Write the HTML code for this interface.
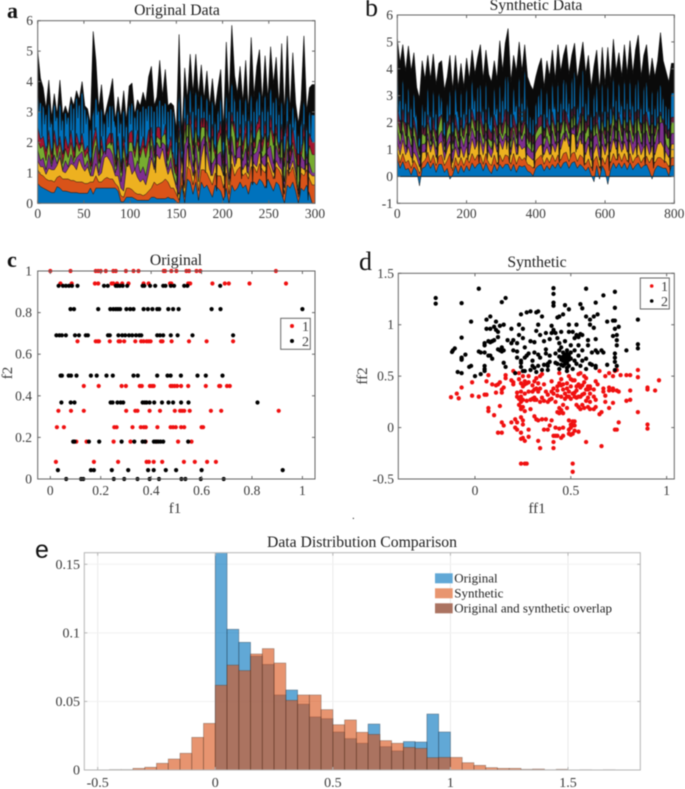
<!DOCTYPE html>
<html>
<head>
<meta charset="utf-8">
<title>Original and synthetic data comparison</title>
<style>
html,body{margin:0;padding:0;background:#fff;width:685px;height:789px;overflow:hidden}
svg{display:block;filter:blur(.4px)}
text{font-family:"Liberation Serif",serif;fill:#3a3a3a}
</style>
</head>
<body>
<svg id="fig" xmlns="http://www.w3.org/2000/svg" width="685" height="789" viewBox="0 0 685 789">
<defs>
<clipPath id="clipA"><rect x="37.7" y="20.7" width="277.3" height="182.6"/></clipPath>
<clipPath id="clipB"><rect x="397.3" y="15" width="277" height="188.3"/></clipPath>
<clipPath id="clipE"><rect x="84.3" y="552.7" width="556" height="217.3"/></clipPath>
</defs>
<text x="7" y="18" style="font-size:22px;font-weight:bold;fill:#111">a</text>
<text x="365" y="16" style="font-size:26px;fill:#111">b</text>
<text x="7" y="267" style="font-size:22px;font-weight:bold;fill:#111">c</text>
<text x="359" y="270" style="font-size:26px;fill:#111">d</text>
<text x="35" y="558" style="font-size:25px;font-family:'Liberation Sans',sans-serif;fill:#111">e</text>
<text x="177" y="15" text-anchor="middle" style="font-size:15.7px;fill:#222">Original Data</text>
<text x="536" y="10" text-anchor="middle" style="font-size:15.7px;fill:#222">Synthetic Data</text>
<text x="176" y="265" text-anchor="middle" style="font-size:15.7px;fill:#222">Original</text>
<text x="537" y="267" text-anchor="middle" style="font-size:15.7px;fill:#222">Synthetic</text>
<text x="362" y="547" text-anchor="middle" style="font-size:15.7px;fill:#222">Data Distribution Comparison</text>
<text x="175" y="513" text-anchor="middle" style="font-size:15px">f1</text>
<text transform="translate(12,373) rotate(-90)" text-anchor="middle" style="font-size:15px">f2</text>
<text x="537" y="513" text-anchor="middle" style="font-size:15px">ff1</text>
<text transform="translate(367,376) rotate(-90)" text-anchor="middle" style="font-size:15px">ff2</text>
<g id="layerA" clip-path="url(#clipA)"></g>
<g id="layerB" clip-path="url(#clipB)"></g>
<g id="layerC"></g>
<g id="layerD"></g>
<g id="layerE" clip-path="url(#clipE)"></g>
<g id="axes"></g>
<text x="517" y="122" style="font-size:22px;fill:#222">a</text>
<text x="352" y="519" style="font-size:11px;fill:#333">.</text>
<g>
<rect x="280.7" y="318.3" width="29.6" height="31" fill="#fff" stroke="#666" stroke-width="1"/>
<circle cx="292" cy="326" r="2" fill="#f01010"/>
<circle cx="292" cy="341" r="2" fill="#000"/>
<text x="302" y="331" style="font-size:14px">1</text>
<text x="302" y="346" style="font-size:14px">2</text>
</g>
<g>
<rect x="640.3" y="278" width="29" height="31" fill="#fff" stroke="#666" stroke-width="1"/>
<circle cx="651.7" cy="286" r="1.8" fill="#f01010"/>
<circle cx="651.7" cy="301" r="1.8" fill="#000"/>
<text x="661" y="291" style="font-size:14px">1</text>
<text x="661" y="306" style="font-size:14px">2</text>
</g>
<g>
<rect x="435" y="573.3" width="17.7" height="10" fill="#61a8d6"/>
<rect x="435" y="588.3" width="17.7" height="10" fill="#e8956f"/>
<rect x="435" y="603.3" width="17.7" height="10" fill="#ab7361"/>
<text x="454.3" y="582.7" style="font-size:13px;fill:#222">Original</text>
<text x="454.3" y="597.7" style="font-size:13px;fill:#222">Synthetic</text>
<text x="454.3" y="612.7" style="font-size:13px;fill:#222">Original and synthetic overlap</text>
</g>
</svg>
<script>
/* Panel a: boundaries of the stacked bands, one value per 3 x units */
const aBlackTop=[5.0,4.1,3.8,3.1,4.05,2.8,3.6,2.9,4.05,2.9,3.2,2.9,3.5,3.2,3.7,3.4,4.0,3.2,3.1,2.6,5.65,4.7,3.1,3.9,2.8,3.2,3.6,4.1,2.7,3.5,2.8,3.7,2.7,3.85,3.95,2.9,3.4,3.2,3.65,3.3,4.15,4.5,3.2,3.5,4.7,3.5,4.4,3.2,3.3,3.2,2.4,5.55,2.2,4.45,3.4,4.9,3.6,4.9,3.5,4.55,3.4,4.35,3.2,4.1,3.1,3.8,4.4,2.4,5.3,3.3,5.85,4.2,3.6,4.5,3.3,4.7,3.0,5.45,3.5,4.5,5.05,3.3,4.85,3.4,5.15,3.9,4.8,3.2,5.25,2.9,5.5,3.0,4.95,3.3,2.6,3.4,5.5,3.0,3.8,3.9];
const aBlue2Top=[3.5,3.3,3.2,2.9,3.3,2.6,3.3,2.8,3.3,2.7,3.0,2.8,3.3,3.1,3.5,3.2,3.7,3.1,2.9,2.4,3.0,3.5,3.0,3.1,2.6,3.0,3.2,3.2,2.5,3.1,2.6,3.1,2.5,3.2,3.3,2.8,3.1,3.0,3.2,3.1,3.2,3.2,3.0,3.2,3.4,3.2,3.3,3.0,3.1,3.0,2.0,3.7,1.7,3.6,2.9,3.8,3.0,3.7,3.1,3.6,3.0,3.5,2.9,3.4,2.6,3.0,3.5,2.0,3.6,3.0,4.0,3.4,3.0,3.5,2.9,3.5,2.7,3.6,3.0,3.4,3.7,3.0,3.6,3.0,3.8,3.3,3.5,2.9,3.4,2.2,3.6,2.6,3.2,2.8,2.2,2.6,3.4,2.4,3.0,2.9];
const aRedTop=[2.5,2.1,2.2,1.7,2.4,1.6,2.4,1.8,2.2,1.6,2.2,1.8,2.4,1.7,2.3,1.9,2.3,1.7,1.9,1.3,2.1,2.5,1.6,2.2,1.5,2.1,2.3,2.3,1.4,2.2,1.2,2.2,1.4,2.3,2.4,1.7,2.4,1.7,2.2,1.8,2.4,2.5,1.7,2.5,2.5,2.0,2.6,1.7,2.2,1.5,1.2,2.7,1.2,2.8,1.9,3.0,1.9,2.9,2.0,2.8,2.8,2.7,2.0,2.6,1.7,2.3,2.7,1.4,2.8,1.9,3.0,2.6,2.0,2.6,1.9,2.7,1.7,2.7,2.0,2.6,2.9,2.0,2.7,2.0,2.9,2.2,2.6,1.8,2.6,1.5,2.7,1.7,2.5,1.8,1.6,1.7,2.6,1.4,2.3,2.0];
const aGreenTop=[2.1,1.8,1.9,1.4,2.1,1.3,2.1,1.5,2.0,1.3,1.8,1.5,2.0,1.4,2.0,1.7,2.0,1.5,1.7,1.1,1.8,2.2,1.3,1.9,1.3,1.9,2.0,2.0,1.2,1.9,1.0,1.9,1.1,2.0,2.0,1.5,2.1,1.5,1.9,1.5,2.0,2.2,1.5,2.2,2.1,2.2,2.3,1.4,1.9,1.2,.9,2.4,.9,2.4,2.6,2.6,1.6,2.5,1.7,2.5,2.5,2.4,1.7,2.2,1.5,2.0,2.3,1.1,2.4,1.6,2.7,2.3,1.7,2.3,1.6,2.3,1.4,2.4,1.7,2.3,2.5,1.7,2.3,1.7,2.5,1.9,2.3,1.6,2.1,1.2,2.2,1.4,2.0,1.5,1.2,1.4,2.2,1.1,1.9,1.6];
const aPurpleTop=[1.75,1.4,1.5,1.1,1.6,1.2,1.6,1.3,1.7,1.1,1.4,1.2,1.6,1.3,1.5,1.6,1.7,1.2,1.4,.9,1.4,1.9,1.0,1.5,1.7,1.8,1.8,1.6,1.0,1.5,.7,1.5,.8,1.7,1.7,1.1,1.4,1.0,1.2,.9,1.4,1.9,1.2,2.0,1.8,2.0,1.9,1.1,1.5,.9,.6,2.0,.6,1.9,2.2,1.9,1.2,2.0,1.1,2.0,2.2,2.0,1.4,1.3,1.5,1.6,1.7,.9,1.9,.8,2.2,1.5,1.8,1.9,1.4,1.8,1.2,2.0,1.6,1.7,2.1,1.5,1.6,1.8,1.9,1.3,1.9,1.5,1.5,.7,1.8,1.3,1.8,1.2,.4,1.6,1.4,1.5,1.3,1.0];
const aYellowTop=[1.4,1.2,1.2,.95,1.15,1.1,1.1,1.25,1.5,1.05,1.0,1.15,1.3,1.25,1.1,1.45,1.2,1.05,1.2,.9,.9,1.3,.9,1.0,1.5,1.55,1.4,1.2,.9,.9,.5,.4,1.2,1.3,.95,1.1,.85,.7,.8,.6,1.0,1.5,1.1,1.6,1.45,1.8,1.3,.95,1.2,.85,.5,.3,1.5,.5,1.9,1.4,.9,1.5,.7,1.5,1.95,1.6,1.1,.9,1.3,1.3,1.2,.9,1.3,.6,1.7,1.2,1.5,1.5,1.1,1.3,.95,1.6,1.3,1.2,1.7,1.3,1.2,1.6,1.3,1.0,1.4,1.2,1.1,.5,1.4,1.1,1.4,1.0,.3,1.2,1.1,1.3,1.0,.9];
const aOrangeTop=[1.1,.95,.9,.8,.75,.75,.7,.85,.9,.8,.8,.8,.75,.75,.7,.7,.7,.65,.65,.7,.7,.9,.7,.7,.8,.85,.8,.8,.65,.55,.25,.2,.5,.5,.45,.35,.3,.3,.25,.3,.4,.5,.7,.6,.65,.7,.8,.7,.5,.5,.3,.1,1.0,.2,1.2,1.1,.6,1.1,.4,1.1,1.1,1.0,.8,.6,1.0,.9,.9,.5,1.0,.3,1.3,.9,1.1,1.2,.9,1.0,.8,1.2,1.2,1.0,1.3,1.1,1.0,1.35,1.1,.8,1.2,1.1,.9,.3,1.1,1.0,1.2,.8,.2,1.0,.9,1.1,.8,.6];
const aBlueTop=[.65,.55,.5,.45,.4,.35,.35,.55,.5,.4,.4,.38,.35,.35,.35,.33,.33,.33,.33,.5,.3,.5,.5,.5,.5,.5,.5,.5,.5,.4,.05,.05,.2,.2,.2,.15,.1,.1,.1,.1,.1,.2,.2,.15,.15,.15,.15,.2,.15,.15,.05,0,.6,0,.8,.7,.3,.7,.1,.7,.5,.6,.4,.2,.6,.5,.4,.1,.5,0,.6,.4,.5,.7,.5,.6,.3,.7,.7,.6,.8,.7,.5,.8,.6,.4,.7,.6,.3,0,.6,.5,.7,.4,0,.5,.4,.6,.3,0];
/* Depth reached by the dark streak between consecutive samples in panel a */
const aDipLevel=[3,2.2,2.6,1.8,2.5,1.4,2.7,1.9,2.4,1.6,2.6,2.0,2.4,1.5,2.8,1.9,2.3,2.6,1.7,1.2,2.4,2.9,1.3,2.2,1.6,2.5,1.9,2.7,1.1,2.3,.9,2.0,1.2,2.6,1.7,2.4,1.3,2.2,1.8,2.7,1.5,2.3,1.0,2.5,1.8,2.6,1.2,2.1,1.6,1.0,.2,2.4,.3,2.0,1.2,2.6,.8,1.9,1.4,2.5,1.0,2.2,.9,1.7,.4,2.3,1.1,.2,2.1,.7,2.5,1.3,2.0,.8,2.4,1.0,2.2,.6,1.8,2.6,.9,2.1,.5,1.9,2.4,.8,2.0,1.3,.2,2.3,.9,1.6,2.4,.7,.2,1.9,1.0,.1,2.2,.4];

/* Panel b: boundaries of the stacked bands, one value per 8 x units */
const bBlackTop=[5.1,4.2,4.9,3.9,4.85,3.9,4.6,3.3,2.9,4.3,3.6,4.5,3.6,4.55,3.4,4.2,4.3,3.2,3.7,4.5,3.2,4.5,3.3,4.2,3.3,4.4,3.6,4.7,3.8,4.4,4.9,3.6,4.7,3.8,3.5,4.3,3.6,5.05,3.9,4.95,5.5,3.5,4.5,3.9,5.0,3.9,4.9,3.7,3.4,3.2,3.7,4.1,4.4,3.3,4.3,3.7,4.7,3.6,4.9,3.9,4.5,4.9,3.8,4.5,4.95,3.6,4.3,5.0,3.8,4.5,3.3,4.1,4.7,3.2,4.8,3.4,4.8,3.5,5.1,3.9,4.6,3.7,4.9,3.8,5.05,3.8,4.7,5.25,3.7,4.5,4.9,3.6,4.4,3.7,4.3,5.35,4.3,3.9,3.5,4.2];
const bBlue2Top=[3.7,2.8,3.6,2.7,3.3,2.5,3.1,2.2,1.4,2.7,2.4,3.3,2.2,3.2,2.3,3.1,2.9,2.0,2.7,3.2,2.0,3.4,2.2,3.2,2.3,3.3,2.5,3.6,2.8,3.3,3.4,2.4,3.5,2.6,2.2,3.3,2.5,3.4,2.8,3.7,3.7,2.3,3.3,2.6,3.7,2.7,4.0,2.6,2.2,2.1,2.7,3.0,3.3,2.3,3.2,2.5,3.5,2.5,3.5,2.7,3.6,3.5,2.7,3.6,3.9,2.5,3.4,4.0,2.7,3.4,2.2,3.0,3.4,2.2,3.5,2.4,3.4,2.5,3.7,2.8,3.5,2.6,3.6,2.7,3.6,2.6,3.4,3.6,2.5,3.3,3.5,2.4,3.2,2.5,3.2,3.4,2.9,2.6,2.5,3.1];
const bRedTop=[2.6,2.0,2.5,1.9,2.4,1.7,2.2,1.6,1.0,1.9,1.8,2.3,1.6,2.2,1.6,2.2,2.3,1.4,2.0,2.3,1.5,2.3,1.6,2.2,1.7,2.3,1.9,2.5,2.0,2.4,2.4,1.8,2.5,1.8,1.6,2.3,1.8,2.4,1.9,2.5,2.4,1.7,2.3,1.8,2.6,1.9,2.5,1.8,1.6,1.5,1.9,2.2,2.3,1.7,2.2,1.8,2.4,1.8,2.4,1.9,2.5,2.4,1.9,2.5,2.6,1.8,2.3,2.6,2.0,2.3,1.6,2.2,2.4,1.6,2.4,1.7,2.4,1.8,2.6,2.0,2.4,1.8,2.5,1.9,2.5,1.8,2.4,2.5,1.9,2.3,2.4,1.8,2.3,1.8,2.2,2.4,2.1,1.9,1.7,2.2];
const bGreenTop=[2.2,1.6,2.1,1.5,2.0,1.4,1.9,1.3,.8,1.6,1.5,2.0,1.3,1.8,1.3,1.9,2.3,1.1,1.7,2.0,1.2,1.9,1.3,1.9,1.4,2.0,1.5,2.2,1.7,2.1,2.0,1.4,2.1,1.4,1.3,1.9,1.4,2.0,1.5,2.1,1.9,1.3,1.9,1.4,2.1,1.5,2.0,1.4,1.3,1.2,1.6,1.8,1.9,1.4,1.9,1.5,2.1,1.5,2.1,1.6,2.1,2.0,1.6,2.2,2.3,1.5,2.0,2.3,1.6,1.9,1.3,1.9,2.0,1.3,2.1,1.4,2.2,1.5,2.4,1.7,2.2,1.5,2.2,1.6,2.2,1.5,2.1,2.2,1.6,2.0,2.1,1.5,2.0,1.5,2.0,2.3,2.0,1.6,1.4,2.0];
const bPurpleTop=[1.75,1.2,1.7,1.1,1.5,1.1,1.5,1.0,.6,1.2,1.2,1.6,1.1,1.5,1.0,1.5,1.7,.9,1.3,1.6,.9,1.5,1.0,1.5,1.1,1.6,1.2,1.8,1.4,1.7,1.6,1.1,1.7,1.2,1.0,1.7,1.1,1.6,1.3,1.6,1.5,1.0,1.7,1.1,1.7,1.3,1.6,1.1,1.0,.9,1.3,1.5,1.6,1.1,1.5,1.1,1.7,1.2,1.7,1.3,1.6,1.7,1.3,1.8,1.9,1.2,1.6,1.7,1.2,1.5,1.0,1.5,1.6,1.0,1.7,1.1,1.7,1.2,1.9,1.3,1.7,1.2,1.8,1.3,1.7,1.2,1.6,1.7,1.2,1.6,1.7,1.2,1.6,1.2,1.7,2.0,2.0,1.2,1.0,1.6];
const bYellowTop=[1.3,.8,1.35,.8,1.1,.7,.9,.7,.35,.9,.9,1.4,.9,1.3,.7,1.2,1.3,.6,1.0,1.3,.5,1.1,.7,1.1,.7,1.1,.8,1.4,1.0,1.35,1.3,.8,1.4,.9,.7,1.35,.9,1.3,1.0,1.4,1.3,.8,1.45,.8,1.2,1.0,1.1,.8,.7,.6,.9,1.1,1.2,.8,1.1,.8,1.2,.9,1.3,1.0,1.4,1.5,1.1,1.6,1.55,1.0,1.4,1.2,.8,1.2,.6,.9,1.2,.6,1.2,.8,1.3,.9,1.4,1.0,1.35,.9,1.3,.9,1.35,.8,1.1,1.25,.8,1.1,1.2,.8,1.15,.8,1.2,1.3,1.1,.9,.7,1.2];
const bOrangeTop=[.9,.5,.85,.5,.6,.3,.6,.4,.1,.5,.6,.9,.5,.8,.4,.75,.8,.4,.6,.85,.2,.7,.4,.7,.4,.7,.5,.85,.6,.8,.8,.45,.85,.5,.4,.8,.45,.8,.55,.8,.75,.45,.85,.45,.75,.6,.7,.45,.4,.3,.6,.7,.8,.45,.7,.5,.8,.55,.8,.6,.85,.9,.55,.85,.9,.55,.8,.7,.45,.65,.3,.6,.75,.3,.7,.45,.8,.5,.85,.6,.85,.55,.85,.55,.85,.5,.7,.8,.5,.7,.75,.5,.7,.5,.7,.7,.6,.55,.35,.7];
const bBlueTop=[.65,.3,.55,.25,.3,.05,.35,.2,-.35,.3,.35,.55,.3,.5,.15,.45,.45,.15,.3,-.1,.05,.4,.1,.4,.15,.4,.2,.5,.3,.45,.5,.2,.5,.25,.1,.45,.2,.45,.3,.45,.45,.2,.45,.15,.4,.35,.4,.2,.15,.02,.3,.4,.45,.2,.4,.25,.45,.3,.5,.3,.5,.55,.3,.5,.55,.3,.45,.35,.2,.35,.05,-.2,.4,-.1,.4,.2,-.3,.25,.5,.3,.5,.3,.5,.25,.5,.25,.4,.5,.3,.4,.45,.2,-.1,.25,.4,.35,.3,.3,.02,.4];
/* Depth reached by the dark streak between consecutive samples in panel b */
const bDipLevel=[2.4,1.4,2.0,.9,1.7,.5,2.2,1.0,.2,1.6,.7,2.1,1.1,1.8,.5,2.3,1.3,.8,1.9,.3,1.0,2.4,.7,1.5,2.0,.6,1.7,2.5,1.1,.5,2.1,1.3,.6,1.9,.9,2.3,.4,1.6,2.2,1.0,.5,1.8,2.4,.8,1.4,2.0,.6,1.2,.9,.3,1.7,2.2,.7,1.4,2.0,.8,2.5,1.1,.5,1.9,1.3,2.3,.7,1.7,.9,2.2,1.2,.4,1.8,.8,.2,1.5,2.1,.2,1.6,1.0,.2,2.0,1.2,.6,2.3,1.0,1.6,.5,2.1,1.3,.7,1.9,1.1,.4,2.4,.9,.3,1.7,1.2,2.0,.5,1.4,.2,1.8];

/* Panel c: rows of points (f2 level followed by f1 values) */
const cRedRows=[
[1,[0,.08,.18,.19,.2,.22,.25,.26,.3,.33,.35,.45,.455,.48,.5,.54,.55,.58,.595,.895]],
[.94,[.04,.085,.177,.19,.243,.25,.265,.285,.31,.37,.39,.475,.48,.547,.555,.643,.692,.708,.79,.935]],
[.662,[.108,.18,.188,.193,.236,.271,.277,.293,.337,.36,.37,.382,.39,.398,.439,.445,.481,.55,.62,.725]],
[.447,[.133,.192,.283,.3,.355,.363,.395,.404,.41,.477,.484,.493,.503,.519,.547,.617,.67,.674,.701,.712]],
[.328,[.032,.082,.133,.301,.337,.346,.394,.435,.494,.515,.523,.531,.553,.637,.678,.906]],
[.249,[.026,.054,.254,.263,.326,.359,.371,.379,.425,.477,.487,.498,.519,.531,.6,.606]],
[.18,[.103,.144,.251,.318,.378,.421,.507,.56]],
[.082,[.022,.173,.269,.382,.391,.41,.444,.53,.573,.622,.657]]];
const cBlackRows=[
[.929,[.033,.05,.062,.074,.086,.108,.213,.228,.26,.267,.276,.287,.305,.366,.373,.396,.416,.448,.457,.478,.491,.531,.544,.674]],
[.817,[.08,.094,.19,.238,.25,.26,.268,.277,.302,.317,.33,.37,.387,.405,.424,.432,.468,.487,.509,.64,.675,1]],
[.691,[.024,.036,.046,.062,.098,.114,.141,.149,.229,.236,.27,.285,.297,.312,.325,.34,.353,.361,.424,.435,.448,.478,.505,.564,.725]],
[.497,[.041,.046,.073,.082,.104,.161,.184,.223,.248,.33,.347,.424,.465,.477,.518,.584,.617,.683]],
[.368,[.044,.081,.096,.239,.247,.266,.279,.289,.366,.375,.382,.394,.412,.443,.469,.487,.519,.548,.822]],
[.18,[.091,.096,.153,.194,.283,.333,.366,.376,.411,.419,.428,.437,.448,.547]],
[.043,[.03,.161,.173,.244,.309,.388,.41,.458,.499,.6,.922]],
[0,[.063,.122,.131,.252,.293,.346,.394,.431,.52,.536,.597,.688]]];

/* Panel d: columns of points (ff1 value followed by ff2 values) */
const dBlackCols=[[-.205,[1.26,1.205]],[-.12,[.735]],[-.115,[.75]],[-.105,[.77]],[-.07,[.66,.67,.68,1.21,.875,.53]],[-.05,[.71]],[-.09,[.54]],[-.03,[.59]],[-.02,[.6,1.03]],[.02,[1.35,.74]],[0,[.5]],[.03,[.73,.52]],[.05,[.82,.8,.73,.6,.57,.55]],[.06,[1.05,.96]],[.07,[.7,.84]],[.08,[1.08,.96,.7,.83]],[.09,[.84,.67]],[.1,[.85,.98]],[.11,[1.03,.95]],[.12,[.93,.88,.76]],[.13,[.99,.75]],[.14,[1.22,.78,.74]],[.15,[1,.75,.63]],[.16,[1.26,.59]],[.17,[.85]],[.19,[.82,.96]],[.2,[.75,.85]],[.21,[.53]],[.22,[.68,.82,.74]],[.23,[1,.9]],[.24,[1.1,.63,.59,.65]],[.25,[.96,.87,.55]],[.26,[.78,.68,.55]],[.27,[1.12,.7]],[.28,[.72]],[.29,[1.13,.84,.56]],[.3,[.65,.6]],[.31,[.83,.73,.58]],[.32,[1.12,.94,.54]],[.33,[1.13,1,.71,.6]],[.34,[.9,.68]],[.35,[1.08,.56]],[.36,[.84,.61]],[.37,[.92,.72,.76]],[.38,[.6,.62,.56]],[.39,[.86,.7,.64]],[.4,[.99,.92]],[.41,[1.355,1.3,1.215,1.185,.95]],[.42,[.72,.63,.92]],[.43,[.87,.62,1.07]],[.44,[1.08,.82,.75,.69,.57]],[.45,[.93,.78,.66,.61]],[.46,[.73,.69,.65,1.1,.6]],[.47,[1.19,.84,.7,.66,.62]],[.48,[.75,.72,.68,.63,.58,.55]],[.49,[1.15,1,.93,.66,.6,.7]],[.5,[.8,.73,.67]],[.51,[.93,.57]],[.52,[.87,.75,.65]],[.53,[.9,.62,1]],[.54,[.88,.8,.7]],[.55,[1.2,.91,.6]],[.56,[1.16,.9,.75,.65]],[.58,[1.35,1.08,.67,.57]],[.59,[.85,.8]],[.6,[1.05,1,.62]],[.61,[.73,.61]],[.62,[1.08,.97]],[.63,[1.215,.75,.86,.6,.58]],[.64,[1.1,.73]],[.66,[.75]],[.67,[1.285,.73]],[.69,[1.03,.61]],[.72,[1.04,.89]],[.73,[1.04,.96,.68,.64,.72,.56,1.32,1.165]],[.74,[.9,.8,.85,.6]],[.75,[.98]],[.79,[.75]],[.85,[1.05,.81,.77]]];
const dRedCols=[[-.125,[.295]],[-.095,[.33]],[-.085,[.285]],[-.07,[.39]],[-.015,[.44,.31]],[.02,[.3]],[.05,[.32]],[.06,[.45,.32]],[.07,[.51,.19,.16]],[.09,[.42]],[.1,[.12]],[.11,[.41,.34]],[.12,[-.05,.42]],[.13,[.21,.44]],[.14,[-.05,.37,.05,.34]],[.15,[.02,.39]],[.16,[.48,.51]],[.19,[.05,.46]],[.2,[.44,.42,.55]],[.21,[0,.08]],[.22,[-.02,.34,.3,.05]],[.23,[.53,.47,.28,.22]],[.24,[.43,.35,.3,.25,.2,.18,.1,-.11,-.05,-.35]],[.25,[.5,.4,.27,.2,.07,.03,-.1]],[.26,[.45,.42,.33,.16,-.13,-.35]],[.27,[.43,.26,-.35]],[.28,[.5,.44,.35,-.09,-.02]],[.29,[.27,.18]],[.3,[.41,.35,.28]],[.31,[.11,.29,.27,.37,.45]],[.32,[.48,.38,.27,.08]],[.33,[.43,.35,-.13,.07]],[.34,[.5,.38,-.2,.25]],[.35,[.52,.29,.08]],[.36,[.42,.26,-.02]],[.37,[.35,.08]],[.38,[.32,.25,-.02]],[.39,[.02,.27]],[.4,[.45,.35,.28,.07]],[.41,[.38,.33,-.08,-.2,-.14]],[.42,[.25,0,-.08]],[.43,[.4,.36,.31,.15,-.08]],[.44,[.53,.43,.19,.14,-.01]],[.45,[.47,.41,.3,.17,-.1]],[.46,[.42,.37,.22,.14,-.08,0]],[.47,[.33,.28]],[.48,[.55,.43,.38,.3,.19]],[.49,[.5,.35,.3,.07,-.06,-.02]],[.5,[.47,.4,.28,.03,0,-.07]],[.51,[.46,.33,-.35,-.43,.06,.02,-.06]],[.52,[.46,.34,.3,-.03,.02,.06]],[.53,[.22,.29,.4,.36]],[.54,[.52,.42,.3,.2,-.04]],[.55,[.53,.39,.3,.18]],[.56,[.41,.32,.22]],[.57,[.5,.44,.33,.19]],[.58,[.48,.37,.26,-.14]],[.59,[.4,.37,.29,.2]],[.6,[.4,.38,.33,.25,.18]],[.62,[.37,.3,.18]],[.63,[.45,.27,.2]],[.64,[.42]],[.65,[.55,.13]],[.66,[-.18,.15]],[.67,[.38,.35]],[.68,[.31,.5,.25]],[.7,[.53,.39,.36,.19]],[.72,[.5,.38,.36,.24]],[.73,[-.02,.55]],[.74,[-.02,.36,.56]],[.75,[.35,.05]],[.76,[.51]],[.79,[.26,.51]],[.81,[.36,.27,.51]],[.85,[.56,.49,.15]],[.9,[.37,.39,.03,-.01]],[.94,[.36]],[.96,[.46]]];

/* Panel e: histogram densities per 0.05-wide bin starting at -0.45 */
const eBinStart=-.45;
const eBinWidth=.05;
const eSynthetic=[.0003,.0003,.0012,.002,.0049,.008,.0122,.0238,.034,.0618,.0765,.0725,.0846,.0885,.078,.0508,.0547,.0547,.044,.033,.0365,.0275,.026,.0214,.0195,.0165,.0158,.009,.0092,.0092,.0053,.0034,.0017,.0012,.0012,.0005,.0007,.0002,.0005,0,.0002,0,.0002];
const eOriginal=[0,0,0,0,0,0,0,0,0,.19,.1026,.0931,.083,.077,.0547,.0583,.048,.0387,.0374,.0277,.0229,.0195,.0335,.017,.0139,.0207,.0204,.0408,.0277,0,0,0,0,0,0,0,0,0,0,0,0,0,0,0];

/* Tick labels */
const aXTicks=[0,50,100,150,200,250,300];
const aYTicks=[0,1,2,3,4,5,6];
const bXTicks=[0,200,400,600,800];
const bYTicks=[-1,0,1,2,3,4,5,6];
const cXTicks=[0,.2,.4,.6,.8,1];
const cYTicks=[0,.2,.4,.6,.8,1];
const dXTicks=[0,.5,1];
const dYTicks=[-.5,0,.5,1,1.5];
const eXTicks=[-.5,0,.5,1,1.5];
const eYTicks=[0,.05,.1,.15];

const NS='http://www.w3.org/2000/svg';
function mk(tag,attrs,parent){const el=document.createElementNS(NS,tag);for(const k in attrs)el.setAttribute(k,attrs[k]);parent.appendChild(el);return el;}
function scale(d0,d1,r0,r1){return v=>r0+(v-d0)*(r1-r0)/(d1-d0);}
const PA={l:37.7,r:315,t:20.7,b:203.3};
const PB={l:397.3,r:674.3,t:15,b:203.3};
const PC={l:37.7,r:315,t:271,b:479};
const PD={l:398.3,r:674.3,t:273.3,b:479};
const PE={l:84.3,r:640.3,t:552.7,b:770};
const ax=scale(0,300,PA.l,PA.r),ay=scale(0,6,PA.b,PA.t);
const bx=scale(0,800,PB.l,PB.r),by=scale(-1,6,PB.b,PB.t);
const cx=scale(-.05,1.05,PC.l,PC.r),cy=scale(0,1,PC.b,PC.t);
const dx=scale(-.4,1.04,PD.l,PD.r),dy=scale(-.5,1.5,PD.b,PD.t);
const ex=scale(-.5,1.5,97.7,568),ey=scale(0,.15,PE.b,564.3);

function stack(layer,bands,stepX,xs,ys,dips,notch){
  bands.forEach(function(band,bandIndex){
    const vals=band[0];
    const useDips=bandIndex>0;
    let d='M'+xs(0).toFixed(1)+','+ys(0).toFixed(1);
    vals.forEach(function(v,i){
      d+='L'+xs(i*stepX).toFixed(1)+','+ys(v).toFixed(1);
      if(useDips&&i<vals.length-1){
        const next=vals[i+1];
        const mid=(v+next)/2;
        if(mid>dips[i]){
          const t0=.5-notch,t1=.5+notch;
          d+='L'+xs((i+t0)*stepX).toFixed(1)+','+ys(v+(next-v)*t0).toFixed(1);
          d+='L'+xs((i+.5)*stepX).toFixed(1)+','+ys(dips[i]).toFixed(1);
          d+='L'+xs((i+t1)*stepX).toFixed(1)+','+ys(v+(next-v)*t1).toFixed(1);
        }
      }
    });
    d+='L'+xs((vals.length-1)*stepX+stepX).toFixed(1)+','+ys(vals[vals.length-1]).toFixed(1);
    d+='L'+xs((vals.length-1)*stepX+stepX).toFixed(1)+','+ys(0).toFixed(1)+'Z';
    const p=mk('path',{d:d,fill:band[1],stroke:'#141414','stroke-width':band[2],'stroke-linejoin':'bevel'},layer);
    
    
  });
}
stack(document.getElementById('layerA'),[[aBlackTop,'#0a0a0a',.7,'black'],[aBlue2Top,'#0072BD',.5,'blue-upper'],[aRedTop,'#A2142F',.5,'red'],[aGreenTop,'#77AC30',.5,'green'],[aPurpleTop,'#7E2F8E',.5,'purple'],[aYellowTop,'#EDB120',.5,'yellow'],[aOrangeTop,'#D95319',.5,'orange'],[aBlueTop,'#0072BD',.5,'blue-base']],3,ax,ay,aDipLevel,.24);
stack(document.getElementById('layerB'),[[bBlackTop,'#0a0a0a',.7,'black'],[bBlue2Top,'#0072BD',.5,'blue-upper'],[bRedTop,'#6a1a3a',.5,'red'],[bGreenTop,'#77AC30',.5,'green'],[bPurpleTop,'#7E2F8E',.5,'purple'],[bYellowTop,'#EDB120',.5,'yellow'],[bOrangeTop,'#D95319',.5,'orange'],[bBlueTop,'#0072BD',.5,'blue-base']],8,bx,by,bDipLevel,.3);

function rowDots(layer,rows,color,xs,ys,label){
  rows.forEach(function(row){
    row[1].forEach(function(v){
      const c=mk('circle',{cx:xs(v).toFixed(1),cy:ys(row[0]).toFixed(1),r:2.1,fill:color},layer);
      
      
    });
  });
}
function colDots(layer,cols,color,xs,ys,label){
  cols.forEach(function(col){
    col[1].forEach(function(v){
      const c=mk('circle',{cx:xs(col[0]).toFixed(1),cy:ys(v).toFixed(1),r:2.15,fill:color},layer);
      
      
    });
  });
}
const gc=document.getElementById('layerC');
rowDots(gc,cRedRows,'#f01010',cx,cy,'point-class-1');
rowDots(gc,cBlackRows,'#000',cx,cy,'point-class-2');
const gd=document.getElementById('layerD');
colDots(gd,dRedCols,'#f01010',dx,dy,'point-class-1');
colDots(gd,dBlackCols,'#000',dx,dy,'point-class-2');

const ge=document.getElementById('layerE');
eXTicks.forEach(function(t){
  const l=mk('line',{x1:ex(t),x2:ex(t),y1:PE.t,y2:PE.b,stroke:'#eaeaea','stroke-width':1},ge);
  
  
});
eYTicks.forEach(function(t){
  const l=mk('line',{x1:PE.l,x2:PE.r,y1:ey(t),y2:ey(t),stroke:'#f1f1f1','stroke-width':1},ge);
  
  
});
function bars(vals,fill,stroke,label){
  vals.forEach(function(v,i){
    if(v<=0)return;
    const x0=ex(eBinStart+i*eBinWidth),x1=ex(eBinStart+(i+1)*eBinWidth);
    const r=mk('rect',{x:x0.toFixed(2),y:ey(v).toFixed(2),width:(x1-x0).toFixed(2),height:(ey(0)-ey(v)).toFixed(2),fill:fill,stroke:stroke,'stroke-width':.7},ge);
    
    
  });
}
bars(eOriginal,'rgba(0,114,189,.62)','rgba(30,50,70,.5)','bar-original');
bars(eSynthetic,'rgba(217,83,25,.62)','rgba(70,50,40,.45)','bar-synthetic');

const gAxes=document.getElementById('axes');
function fmt(t){return String(t);}
function frame(P,xs,ys,xt,yt,opt){
  const color=opt.color;
  const box=mk('rect',{x:P.l,y:P.t,width:P.r-P.l,height:P.b-P.t,fill:'none',stroke:color,'stroke-width':1},gAxes);
  
  
  xt.forEach(function(t){
    const x=xs(t);
    const tick=mk('line',{x1:x,x2:x,y1:P.b,y2:P.b-3,stroke:color,'stroke-width':1},gAxes);
    
    
    const tickTop=mk('line',{x1:x,x2:x,y1:P.t,y2:P.t+3,stroke:color,'stroke-width':1},gAxes);
    
    
    const lab=mk('text',{x:x,y:opt.xBase,'text-anchor':'middle',style:'font-size:'+opt.size+'px'},gAxes);
    lab.textContent=fmt(t);
    
    
  });
  yt.forEach(function(t){
    const y=ys(t);
    const tick=mk('line',{x1:P.l,x2:P.l+3,y1:y,y2:y,stroke:color,'stroke-width':1},gAxes);
    
    
    const tickR=mk('line',{x1:P.r,x2:P.r-3,y1:y,y2:y,stroke:color,'stroke-width':1},gAxes);
    
    
    const lab=mk('text',{x:opt.yRight,y:y+opt.yShift,'text-anchor':'end',style:'font-size:'+opt.size+'px'},gAxes);
    lab.textContent=fmt(t);
    
    
  });
}
frame(PA,ax,ay,aXTicks,aYTicks,{name:'panel-a',color:'#666',xBase:218,yRight:33,yShift:4.5,size:13.5});
frame(PB,bx,by,bXTicks,bYTicks,{name:'panel-b',color:'#666',xBase:218,yRight:393,yShift:4.5,size:13.5});
frame(PC,cx,cy,cXTicks,cYTicks,{name:'panel-c',color:'#666',xBase:495,yRight:32,yShift:4.5,size:13.5});
frame(PD,dx,dy,dXTicks,dYTicks,{name:'panel-d',color:'#666',xBase:495,yRight:394,yShift:4.5,size:13.5});
frame(PE,ex,ey,eXTicks,eYTicks,{name:'panel-e',color:'#b5b5b5',xBase:787,yRight:80,yShift:4.5,size:14});
</script>
</body>
</html>
